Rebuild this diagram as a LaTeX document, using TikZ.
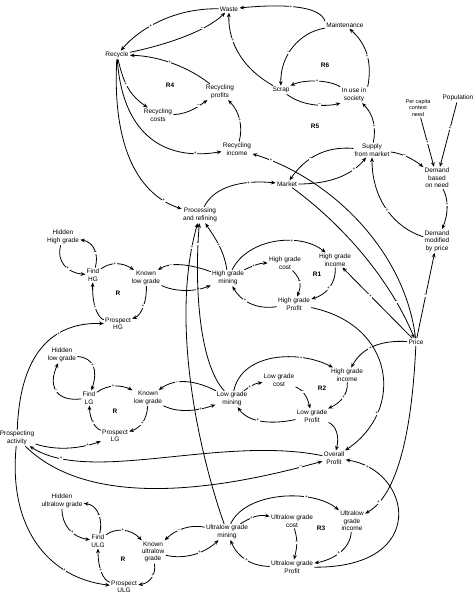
\documentclass[tikz,border=0pt]{standalone}
\usepackage{fontspec}
\setmainfont{Liberation Sans}
\usetikzlibrary{arrows.meta}
\begin{document}
\begin{tikzpicture}[x=1pt,y=-1pt,
 nd/.style={font=\fontsize{6.5}{7.4}\selectfont, align=center, inner sep=1.2pt},
 sm/.style={font=\fontsize{5.5}{6.4}\selectfont, align=center, inner sep=1pt},
 lbl/.style={font=\bfseries\fontsize{6.5}{7}\selectfont, inner sep=0pt},
 ar/.style={-{Stealth[length=4.6pt,width=3.8pt]}, line width=0.8pt},
 sg/.style={fill=white, inner sep=0.4pt, font=\fontsize{5}{5}\selectfont}]
\useasboundingbox (0,0) rectangle (474,594);
% nodes
\node[nd] (waste) at (229,9) {Waste};
\node[nd] (maint) at (345,25) {Maintenance};
\node[nd] (recycle) at (117,55) {Recycle};
\node[nd] (rprof) at (220,92) {Recycling\\profits};
\node[nd] (rcost) at (158,115) {Recycling\\costs};
\node[nd] (scrap) at (281,90) {Scrap};
\node[nd] (inuse) at (354,95) {In use in\\society};
\node[sm] (percap) at (418,108) {Per capita\\context\\need};
\node[nd] (pop) at (458,98) {Population};
\node[nd] (rinc) at (237,149) {Recycling\\income};
\node[nd] (supply) at (372,150) {Supply\\from market};
\node[nd] (dbn) at (437,178) {Demand\\based\\on need};
\node[nd] (market) at (287,184) {Market};
\node[nd] (proc) at (200,215) {Processing\\and refining};
\node[nd] (dmp) at (437,241) {Demand\\modified\\by price};
\node[nd] (hhg) at (63,237) {Hidden\\High grade};
\node[nd] (findhg) at (93,275) {Find\\HG};
\node[nd] (knownhg) at (146,278) {Known\\low grade};
\node[nd] (prosphg) at (118,324) {Prospect\\HG};
\node[nd] (hgm) at (228,278) {High grade\\mining};
\node[nd] (hgc) at (285,263) {High grade\\cost};
\node[nd] (hgi) at (335,260) {High grade\\income};
\node[nd] (hgp) at (294,304) {High grade\\Profit};
\node[nd] (price) at (416,342) {Price};
\node[nd] (hlg) at (62,355) {Hidden\\low grade};
\node[nd] (findlg) at (89,398) {Find\\LG};
\node[nd] (knownlg) at (148,398) {Known\\low grade};
\node[nd] (prosplg) at (115,436) {Prospect\\LG};
\node[nd] (prosact) at (17,438) {Prospecting\\activity};
\node[nd] (lgm) at (232,399) {Low grade\\mining};
\node[nd] (lgc) at (279,380) {Low grade\\cost};
\node[nd] (hgi2) at (347,375) {High grade\\income};
\node[nd] (lgp) at (312,416) {Low grade\\Profit};
\node[nd] (op) at (334,458) {Overall\\Profit};
\node[nd] (hulg) at (62,501) {Hidden\\ultralow grade};
\node[nd] (findulg) at (98,541) {Find\\ULG};
\node[nd] (knownulg) at (153,552) {Known\\ultralow\\grade};
\node[nd] (prospulg) at (124,587) {Prospect\\ULG};
\node[nd] (ulgm) at (227,532) {Ultralow grade\\mining};
\node[nd] (ulgc) at (292,521) {Ultralow grade\\cost};
\node[nd] (ulgi) at (352,521) {Ultralow\\grade\\income};
\node[nd] (ulgp) at (292,567) {Ultralow grade\\Profit};
% loop labels
\node[lbl] (lr4) at (170,85) {R4};
\node[lbl] (lr6) at (325,65) {R6};
\node[lbl] (lr5) at (315,126) {R5};
\node[lbl] (lr1) at (317,274) {R1};
\node[lbl] (lr2) at (322,388) {R2};
\node[lbl] (lr3) at (321,528) {R3};
\node[lbl] (lrh) at (118,293) {R};
\node[lbl] (lrl) at (115,411) {R};
\node[lbl] (lru) at (123,559) {R};
% top section
\draw[ar] (waste) .. controls (175,8) and (140,28) .. (recycle) node[sg,pos=0.6]{+};
\draw[ar] (recycle) .. controls (165,45) and (205,32) .. (waste) node[sg,pos=0.7]{--};
\draw[ar] (maint.north west) .. controls (320,5) and (280,4) .. (waste) node[sg,pos=0.55]{+};
\draw[ar] (scrap) .. controls (245,70) and (228,45) .. (waste) node[sg,pos=0.7]{+};
\draw[ar] (maint) .. controls (300,32) and (280,55) .. (scrap) node[sg,pos=0.6]{--};
\draw[ar] (inuse.north east) .. controls (372,65) and (368,45) .. (maint) node[sg,pos=0.5]{+};
\draw[ar] (inuse.north west) .. controls (330,80) and (305,79) .. (scrap) node[sg,pos=0.5]{+};
\draw[ar] (scrap) .. controls (305,108) and (330,106) .. (inuse.south west) node[sg,pos=0.55]{--};
\draw[ar] (supply) .. controls (376,128) and (374,115) .. (inuse) node[sg,pos=0.4]{+};
\draw[ar] (percap) -- (dbn) node[sg,pos=0.5]{+};
\draw[ar] (pop) -- (dbn) node[sg,pos=0.4]{+};
\draw[ar] (supply) .. controls (400,153) and (412,158) .. (dbn) node[sg,pos=0.45]{--};
\draw[ar] (dbn) .. controls (449,200) and (448,215) .. (dmp) node[sg,pos=0.4]{+};
\draw[ar] (dmp) .. controls (395,228) and (372,200) .. (supply) node[sg,pos=0.5]{+};
\draw[ar] (supply) .. controls (325,146) and (305,158) .. (market) node[sg,pos=0.6]{--};
\draw[ar] (market) .. controls (330,184) and (352,175) .. (supply) node[sg,pos=0.75]{+};
\draw[ar] (price) .. controls (405,250) and (330,178) .. (rinc) node[sg,pos=0.92]{+};
\draw[ar] (market) .. controls (330,215) and (385,268) .. (price) node[sg,pos=0.82]{--};
\draw[ar] (price) -- (hgi) node[sg,pos=0.6]{+};
\draw[ar] (price) -- (dmp) node[sg,pos=0.5]{--};
\draw[ar] (proc) .. controls (215,185) and (245,180) .. (market) node[sg,pos=0.7]{+};
% recycling
\draw[ar] (recycle) .. controls (112,150) and (140,195) .. (proc) node[sg,pos=0.85]{+};
\draw[ar] (recycle) .. controls (122,130) and (160,162) .. (rinc) node[sg,pos=0.85]{+};
\draw[ar] (recycle) .. controls (124,85) and (130,95) .. (rcost) node[sg,pos=0.4]{+};
\draw[ar] (rcost) .. controls (190,114) and (200,105) .. (rprof) node[sg,pos=0.65]{--};
\draw[ar] (rinc) .. controls (243,128) and (240,112) .. (rprof) node[sg,pos=0.5]{+};
\draw[ar] (rprof) .. controls (190,68) and (160,56) .. (recycle) node[sg,pos=0.55]{+};
% high grade loop
\draw[ar] (hhg) .. controls (56,262) and (68,273) .. (findhg) node[sg,pos=0.6]{+};
\draw[ar] (findhg) .. controls (99,255) and (94,242) .. (hhg) node[sg,pos=0.4]{--};
\draw[ar] (findhg) .. controls (110,262) and (122,262) .. (knownhg) node[sg,pos=0.45]{+};
\draw[ar] (knownhg) .. controls (147,300) and (142,315) .. (prosphg) node[sg,pos=0.5]{+};
\draw[ar] (prosphg) .. controls (98,318) and (92,305) .. (findhg) node[sg,pos=0.55]{+};
\draw[ar] (prosact) .. controls (20,350) and (55,322) .. (prosphg) node[sg,pos=0.65]{+};
\draw[ar] (hgm) .. controls (190,264) and (170,262) .. (knownhg) node[sg,pos=0.7]{--};
\draw[ar] (knownhg) .. controls (175,292) and (195,292) .. (hgm) node[sg,pos=0.75]{+};
\draw[ar] (hgm) .. controls (224,250) and (215,238) .. (proc) node[sg,pos=0.5]{+};
\draw[ar] (hgm) .. controls (252,266) and (260,263) .. (hgc) node[sg,pos=0.4]{+};
\draw[ar] (hgm) .. controls (248,238) and (300,232) .. (hgi) node[sg,pos=0.65]{+};
\draw[ar] (hgc) .. controls (302,280) and (301,287) .. (hgp) node[sg,pos=0.45]{--};
\draw[ar] (hgi) .. controls (336,285) and (325,295) .. (hgp) node[sg,pos=0.5]{+};
\draw[ar] (hgp) .. controls (255,310) and (240,300) .. (hgm) node[sg,pos=0.6]{+};
\draw[ar] (hgp) .. controls (395,325) and (405,410) .. (op) node[sg,pos=0.75]{+};
\draw[ar] (price) .. controls (380,340) and (362,348) .. (hgi2) node[sg,pos=0.55]{+};
% low grade loop
\draw[ar] (hlg) .. controls (94,358) and (98,370) .. (findlg) node[sg,pos=0.45]{+};
\draw[ar] (findlg) .. controls (55,402) and (48,385) .. (hlg) node[sg,pos=0.5]{--};
\draw[ar] (findlg) .. controls (108,384) and (122,385) .. (knownlg) node[sg,pos=0.45]{+};
\draw[ar] (knownlg) .. controls (147,420) and (140,428) .. (prosplg) node[sg,pos=0.5]{+};
\draw[ar] (prosplg) .. controls (95,428) and (90,420) .. (findlg) node[sg,pos=0.5]{+};
\draw[ar] (prosact) .. controls (60,452) and (85,447) .. (prosplg) node[sg,pos=0.75]{+};
\draw[ar] (lgm) .. controls (195,380) and (175,378) .. (knownlg) node[sg,pos=0.65]{--};
\draw[ar] (knownlg) .. controls (180,414) and (200,410) .. (lgm) node[sg,pos=0.7]{+};
\draw[ar] (lgm) .. controls (200,365) and (194,290) .. (proc) node[sg,pos=0.9]{+};
\draw[ar] (ulgm) .. controls (198,450) and (170,320) .. (proc) node[sg,pos=0.92]{+};
\draw[ar] (lgm) .. controls (248,388) and (252,384) .. (lgc) node[sg,pos=0.45]{+};
\draw[ar] (lgm) .. controls (242,352) and (300,350) .. (hgi2) node[sg,pos=0.72]{+};
\draw[ar] (lgc) .. controls (303,390) and (307,396) .. (lgp) node[sg,pos=0.4]{--};
\draw[ar] (hgi2) .. controls (348,395) and (340,403) .. (lgp) node[sg,pos=0.45]{+};
\draw[ar] (lgp) .. controls (270,425) and (248,422) .. (lgm) node[sg,pos=0.55]{+};
\draw[ar] (lgp) .. controls (335,425) and (340,435) .. (op);
% overall profit and prospecting
\draw[ar] (op) .. controls (220,435) and (90,485) .. (prosact) node[sg,pos=0.85]{+};
\draw[ar] (prosact) .. controls (90,510) and (220,490) .. (op) node[sg,pos=0.93]{--};
\draw[ar] (prosact) .. controls (8,530) and (50,578) .. (prospulg) node[sg,pos=0.72]{+};
\draw[ar] (ulgp) .. controls (430,568) and (412,470) .. (op) node[sg,pos=0.88]{+};
\draw[ar] (price) .. controls (412,430) and (398,495) .. (ulgi) node[sg,pos=0.85]{+};
% ultralow grade loop
\draw[ar] (hulg) .. controls (62,525) and (72,537) .. (findulg) node[sg,pos=0.6]{+};
\draw[ar] (findulg) .. controls (103,520) and (98,505) .. (hulg) node[sg,pos=0.45]{--};
\draw[ar] (findulg) .. controls (115,528) and (130,528) .. (knownulg) node[sg,pos=0.5]{+};
\draw[ar] (knownulg) .. controls (156,575) and (150,583) .. (prospulg) node[sg,pos=0.4]{+};
\draw[ar] (prospulg) .. controls (103,580) and (98,568) .. (findulg) node[sg,pos=0.55]{+};
\draw[ar] (ulgm) .. controls (190,524) and (175,530) .. (knownulg) node[sg,pos=0.6]{--};
\draw[ar] (knownulg) .. controls (185,560) and (205,553) .. (ulgm) node[sg,pos=0.6]{+};
\draw[ar] (ulgm) .. controls (250,518) and (258,514) .. (ulgc) node[sg,pos=0.4]{+};
\draw[ar] (ulgm) .. controls (245,492) and (312,488) .. (ulgi) node[sg,pos=0.7]{+};
\draw[ar] (ulgc) .. controls (298,540) and (297,548) .. (ulgp) node[sg,pos=0.45]{--};
\draw[ar] (ulgi) .. controls (350,550) and (332,560) .. (ulgp) node[sg,pos=0.5]{+};
\draw[ar] (ulgp) .. controls (252,566) and (238,558) .. (ulgm) node[sg,pos=0.5]{+};
\end{tikzpicture}
\end{document}
